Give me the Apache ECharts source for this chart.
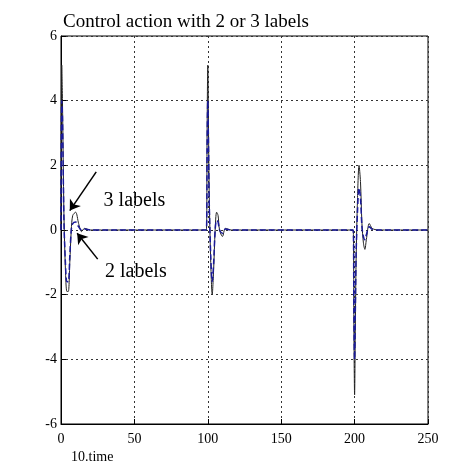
<!DOCTYPE html>
<html><head><meta charset="utf-8">
<script src="https://cdn.jsdelivr.net/npm/echarts/dist/echarts.min.js"></script>
<style>html,body{margin:0;background:#fff}</style></head>
<body>
<div id="chart" style="width:474px;height:474px;"></div>
<script>
// time samples and values
var time = [0, 0.5, 1, 2, 3, 4, 5, 6, 7, 8, 10, 12, 14, 16, 20, 30,
            99, 99.5, 100, 100.5, 101, 102, 103, 104, 105, 106, 107, 108, 110, 112, 116, 130,
            199, 199.5, 200, 200.5, 201, 202, 203, 204, 205, 206, 207, 208, 210, 212, 216, 250];
var threeLabels = [0, 5.1, 4.0, 0.5, -1.2, -1.9, -1.9, -1.0, 0.0, 0.45, 0.55, 0.2, -0.05, 0.05, 0, 0,
                   0, 3.0, 5.1, 3.0, 1.0, -1.0, -2.0, -1.2, 0.0, 0.55, 0.45, 0.0, -0.2, 0.05, 0, 0,
                   0, -3.0, -5.1, -3.0, -1.0, 1.0, 2.0, 1.5, 0.2, -0.4, -0.6, -0.3, 0.2, 0.05, 0, 0];
var twoLabels   = [0, 4.0, 3.5, 0.3, -1.0, -1.6, -1.6, -0.8, 0.0, 0.2, 0.25, 0.1, 0, 0.03, 0, 0,
                   0, 2.5, 4.0, 2.5, 0.8, -0.8, -1.6, -1.0, 0.0, 0.3, 0.25, 0.0, -0.1, 0.03, 0, 0,
                   0, -2.5, -4.0, -2.5, -0.8, 0.6, 1.3, 1.0, 0.1, -0.2, -0.3, -0.15, 0.1, 0.02, 0, 0];

var pairs = function (vals) { return time.map(function (t, i) { return [t, vals[i]]; }); };
var chart = echarts.init(document.getElementById('chart'));
var font = 'Liberation Serif';
var gridLine = {show: true, lineStyle: {color: '#333', type: [2, 3], width: 1}};
chart.setOption({
  animation: false,
  title: {text: 'Control action with 2 or 3 labels', left: 58, top: 8,
    textStyle: {fontFamily: font, fontWeight: 'normal', fontSize: 19, color: '#000'}},
  grid: {left: 61, right: 46, top: 36, bottom: 50, show: true, borderColor: '#000', borderWidth: 1},
  xAxis: {type: 'value', min: 0, max: 250, interval: 50,
    axisLine: {onZero: false, lineStyle: {color: '#000'}}, axisTick: {inside: true, lineStyle: {color: '#000'}},
    axisLabel: {color: '#000', fontFamily: font, fontSize: 14},
    splitLine: gridLine,
    name: '10.time', nameLocation: 'start', nameGap: 0,
    nameTextStyle: {fontFamily: font, fontSize: 14, color: '#000', align: 'left', verticalAlign: 'top', padding: [26, 0, 0, 10]}},
  yAxis: {type: 'value', min: -6, max: 6, interval: 2,
    axisLine: {lineStyle: {color: '#000'}}, axisTick: {inside: true, lineStyle: {color: '#000'}},
    axisLabel: {color: '#000', fontFamily: font, fontSize: 14, margin: 4},
    splitLine: gridLine},
  series: [
    {type: 'line', name: '3 labels', data: pairs(threeLabels), showSymbol: false, smooth: 0.3,
     lineStyle: {color: '#222', width: 1}, z: 2,
     markLine: {silent: true, symbol: ['none', 'arrow'], symbolSize: 10,
       lineStyle: {color: '#000', type: 'solid', width: 1.5},
       label: {show: false},
       data: [[{coord: [24, 1.8]}, {coord: [6, 0.6]}], [{coord: [25, -0.9]}, {coord: [11, -0.1]}]]}},
    {type: 'line', name: '2 labels', data: pairs(twoLabels), showSymbol: false, smooth: 0.3,
     lineStyle: {color: '#1a1a9a', width: 1.5, type: [6, 3]}, z: 3},
    {type: 'scatter', data: [[29, 0.9], [30, -1.3]], symbolSize: 0, itemStyle: {opacity: 0},
     label: {show: true, position: 'right', distance: 0, fontFamily: font, fontSize: 20, color: '#000', opacity: 1,
       formatter: function (p) { return p.dataIndex === 0 ? '3 labels' : '2 labels'; }}}
  ]
});
</script>
</body></html>
